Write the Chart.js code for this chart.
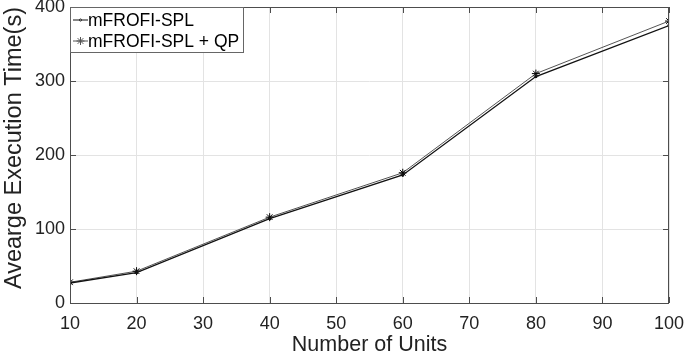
<!DOCTYPE html>
<html>
<head>
<meta charset="utf-8">
<script src="https://cdn.jsdelivr.net/npm/chart.js@4.4.1/dist/chart.umd.min.js"></script>
<style>
  html, body { margin: 0; padding: 0; background: #fff; }
  #wrap { width: 685px; height: 358px; }
</style>
</head>
<body>
<div id="wrap"><canvas id="timeChart" width="685" height="358"></canvas></div>
<script>
// chart values
const units = [10, 20, 40, 60, 80, 100];
const splTimes = [27, 41, 114, 173, 306, 375];
const splQpTimes = [28, 43, 116, 176, 310, 381];
const seriesNames = ['mFROFI-SPL', 'mFROFI-SPL + QP'];

const font = 'Liberation Sans, Arial, Helvetica, sans-serif';

// MATLAB-ish frame: box all round, ticks pointing in
const boxFrame = {
    id: 'boxFrame',
    afterDraw(chart) {
        const { ctx, chartArea: a, scales } = chart;
        ctx.save();
        ctx.strokeStyle = '#4d4d4d';
        ctx.lineWidth = 1;
        ctx.strokeRect(a.left + 0.5, a.top + 0.5, a.right - a.left - 1, a.bottom - a.top);
        ctx.beginPath();
        scales.x.ticks.forEach(t => {
            const px = Math.round(scales.x.getPixelForValue(t.value)) + 0.5;
            ctx.moveTo(px, a.bottom); ctx.lineTo(px, a.bottom - 6);
            ctx.moveTo(px, a.top); ctx.lineTo(px, a.top + 6);
        });
        scales.y.ticks.forEach(t => {
            const py = Math.round(scales.y.getPixelForValue(t.value)) + 0.5;
            ctx.moveTo(a.left, py); ctx.lineTo(a.left + 6, py);
            ctx.moveTo(a.right, py); ctx.lineTo(a.right - 6, py);
        });
        ctx.stroke();

        // legend box in the top-left corner
        const lx = a.left, ly = a.top, lw = 173, lh = 45;
        ctx.fillStyle = '#fff';
        ctx.fillRect(lx, ly, lw, lh);
        ctx.strokeStyle = '#666';
        ctx.strokeRect(lx + 0.5, ly + 0.5, lw, lh);
        ctx.font = '17.5px ' + font;
        ctx.textBaseline = 'middle';
        chart.data.datasets.forEach((ds, i) => {
            const cy = ly + 13 + i * 21;
            ctx.strokeStyle = ds.borderColor;
            ctx.lineWidth = 1;
            ctx.beginPath();
            ctx.moveTo(lx + 3, cy); ctx.lineTo(lx + 18, cy);
            ctx.stroke();
            Chart.helpers.drawPoint(ctx, {
                pointStyle: ds.pointStyle, radius: ds.pointRadius,
                rotation: 0, borderWidth: 1
            }, lx + 10.5, cy);
            ctx.fillStyle = '#000';
            ctx.fillText(ds.label, lx + 18, cy + 1);
        });
        ctx.restore();
    }
};

const ctx = document.getElementById('timeChart').getContext('2d');
new Chart(ctx, {
    type: 'line',
    data: {
        datasets: [
            {
                label: seriesNames[0],
                data: units.map((u, i) => ({ x: u, y: splTimes[i] })),
                borderColor: '#111',
                backgroundColor: '#111',
                borderWidth: 1.3,
                pointStyle: 'circle',
                pointRadius: 1,
                tension: 0
            },
            {
                label: seriesNames[1],
                data: units.map((u, i) => ({ x: u, y: splQpTimes[i] })),
                borderColor: '#555',
                backgroundColor: '#000',
                pointBorderColor: '#000',
                borderWidth: 1,
                pointStyle: 'star',
                pointRadius: 4,
                tension: 0
            }
        ]
    },
    options: {
        responsive: false,
        animation: false,
        layout: { padding: { top: 7, right: 16, bottom: 0, left: 0 } },
        plugins: {
            legend: { display: false },
            tooltip: { enabled: false }
        },
        scales: {
            x: {
                type: 'linear',
                min: 10,
                max: 100,
                afterFit(scale) {
                    scale.height = 55;
                    scale.paddingLeft = 0;
                    scale.paddingRight = 0;
                },
                ticks: { stepSize: 10, color: '#222', font: { family: font, size: 18 }, padding: 10 },
                grid: { color: '#e3e3e3', drawTicks: false },
                border: { display: false },
                title: { display: true, text: 'Number of Units', color: '#222',
                         font: { family: font, size: 21.5 }, padding: { top: 0, bottom: 0 } }
            },
            y: {
                min: 0,
                max: 400,
                afterFit(scale) {
                    scale.width = 70;
                    scale.paddingTop = 0;
                    scale.paddingBottom = 0;
                },
                ticks: { stepSize: 100, color: '#222', font: { family: font, size: 18 }, padding: 5 },
                grid: { color: '#e3e3e3', drawTicks: false },
                border: { display: false },
                title: { display: true, text: 'Avearge Execution Time(s)', color: '#222', align: 'end',
                         font: { family: font, size: 23.5 }, padding: { top: 0, bottom: 0 } }
            }
        }
    },
    plugins: [boxFrame]
});
</script>
</body>
</html>
